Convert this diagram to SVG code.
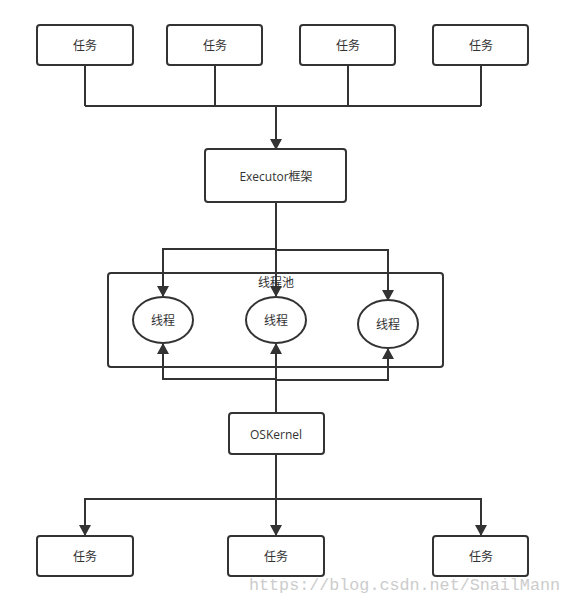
<svg xmlns="http://www.w3.org/2000/svg" width="570" height="603" viewBox="0 0 570 603">
<defs>
<style>
.box{fill:#fff;stroke:#333;stroke-width:2}
.t{font-family:"Open Sans","Noto Sans CJK SC",sans-serif;font-size:12px;fill:#333;text-anchor:middle;dominant-baseline:central}
.c{fill:none;stroke:#333;stroke-width:2}
</style>
<marker id="a" markerUnits="userSpaceOnUse" markerWidth="12" markerHeight="14" refX="10" refY="6" orient="auto">
<path d="M0,0 L11,6 L0,12 Z" fill="#333"/>
</marker>
</defs>
<rect width="570" height="603" fill="#fff"/>
<g id="connectors">
<path class="c" d="M85,65V106M215,65V106M348,65V106M481,65V106M85,106H481"/>
<path class="c" d="M276,106V149" marker-end="url(#a)"/>
<path class="c" d="M276,202V249H163V296" marker-end="url(#a)"/>
<path class="c" d="M276,249V296" marker-end="url(#a)"/>
<path class="c" d="M276,250H388V300" marker-end="url(#a)"/>
<path class="c" d="M276,413V379H163V344" marker-end="url(#a)"/>
<path class="c" d="M276,379V344" marker-end="url(#a)"/>
<path class="c" d="M276,380H388V349" marker-end="url(#a)"/>
<path class="c" d="M276,454V499H85V535" marker-end="url(#a)"/>
<path class="c" d="M276,499V535" marker-end="url(#a)"/>
<path class="c" d="M276,499H481V535" marker-end="url(#a)"/>
</g>
<g id="task1"><rect class="box" x="37" y="25" width="96" height="40" rx="3"/><text class="t" x="85" y="45">任务</text></g>
<g id="task2"><rect class="box" x="167" y="25" width="95" height="40" rx="3"/><text class="t" x="215" y="45">任务</text></g>
<g id="task3"><rect class="box" x="300" y="25" width="95" height="40" rx="3"/><text class="t" x="348" y="45">任务</text></g>
<g id="task4"><rect class="box" x="433" y="25" width="95" height="40" rx="3"/><text class="t" x="481" y="45">任务</text></g>
<g id="executor"><rect class="box" x="205" y="149" width="141" height="53" rx="3"/><text class="t" x="276" y="176">Executor框架</text></g>
<g id="pool"><rect class="box" x="108" y="273" width="335" height="94" rx="3" fill="none" style="fill:none"/><text class="t" x="276" y="282">线程池</text></g>
<g id="thread1"><ellipse class="box" cx="163" cy="320" rx="30" ry="23"/><text class="t" x="163" y="320">线程</text></g>
<g id="thread2"><ellipse class="box" cx="276" cy="320" rx="30" ry="23"/><text class="t" x="276" y="320">线程</text></g>
<g id="thread3"><ellipse class="box" cx="388" cy="324" rx="30" ry="24"/><text class="t" x="388" y="324">线程</text></g>
<g id="oskernel"><rect class="box" x="229" y="413" width="95" height="41" rx="3"/><text class="t" x="276" y="434">OSKernel</text></g>
<g id="task5"><rect class="box" x="37" y="536" width="96" height="40" rx="3"/><text class="t" x="85" y="556">任务</text></g>
<g id="task6"><rect class="box" x="228" y="536" width="96" height="40" rx="3"/><text class="t" x="276" y="556">任务</text></g>
<g id="task7"><rect class="box" x="433" y="536" width="95" height="40" rx="3"/><text class="t" x="481" y="556">任务</text></g>
<text x="249" y="590" font-family="Liberation Mono, monospace" font-size="16" fill="#ccc" textLength="311" lengthAdjust="spacingAndGlyphs">https://blog.csdn.net/SnailMann</text>
</svg>
